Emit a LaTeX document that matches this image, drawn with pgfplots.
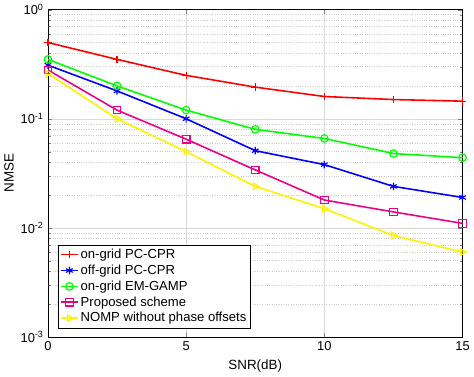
\documentclass[border=0pt]{standalone}
\usepackage{pgfplots}
\pgfplotsset{compat=1.18}
\usepackage{fontspec}
\setmainfont{Liberation Sans}
\begin{document}
\fontsize{13}{15}\selectfont
\begin{tikzpicture}
\begin{axis}[
  scale only axis,
  width=418pt, height=330pt,
  xmin=0, xmax=15, ymin=1e-3, ymax=1,
  ymode=log,
  xtick={0,5,10,15},
  ytick={1e-3,1e-2,1e-1,1},
  yticklabels={10\textsuperscript{-3},10\textsuperscript{-2},10\textsuperscript{-1},10\textsuperscript{0}},
  /pgf/number format/assume math mode=true,
  tick align=inside,
  xmajorgrids, ymajorgrids, yminorgrids,
  major grid style={gray!30, line width=0.5pt},
  minor grid style={gray!40, dotted, line width=0.5pt},
  axis line style={line width=0.6pt},
  xlabel={SNR(dB)}, ylabel={NMSE},
  ylabel style={yshift=-2pt},
  tick label style={font=\fontsize{13}{15}\selectfont},
  label style={font=\fontsize{13.5}{15}\selectfont},
  legend style={at={(0.024,0.027)}, anchor=south west, draw=black, line width=0.6pt,
    font=\fontsize{13.2}{15}\selectfont, row sep=0.5pt, inner sep=2pt, cells={anchor=west}},
  legend cell align=left,
  every axis plot/.append style={line width=1.6pt, mark size=3.8pt, mark options={solid, line width=1.2pt}},
]
\addplot[red, mark=+] coordinates {(0,0.5) (2.5,0.35) (5,0.25) (7.5,0.195) (10,0.16) (12.5,0.15) (15,0.145)};
\addlegendentry{on-grid PC-CPR}
\addplot[blue, mark=asterisk] coordinates {(0,0.31) (2.5,0.18) (5,0.1) (7.5,0.051) (10,0.038) (12.5,0.024) (15,0.019)};
\addlegendentry{off-grid PC-CPR}
\addplot[green, mark=o] coordinates {(0,0.35) (2.5,0.2) (5,0.12) (7.5,0.08) (10,0.066) (12.5,0.048) (15,0.044)};
\addlegendentry{on-grid EM-GAMP}
\addplot[magenta, mark=square] coordinates {(0,0.28) (2.5,0.12) (5,0.065) (7.5,0.034) (10,0.018) (12.5,0.014) (15,0.011)};
\addlegendentry{Proposed scheme}
\addplot[yellow, mark=triangle, mark options={rotate=-90, line width=1.2pt, solid}] coordinates {(0,0.26) (2.5,0.1) (5,0.05) (7.5,0.024) (10,0.015) (12.5,0.0085) (15,0.006)};
\addlegendentry{NOMP without phase offsets}
\end{axis}
\end{tikzpicture}
\end{document}
